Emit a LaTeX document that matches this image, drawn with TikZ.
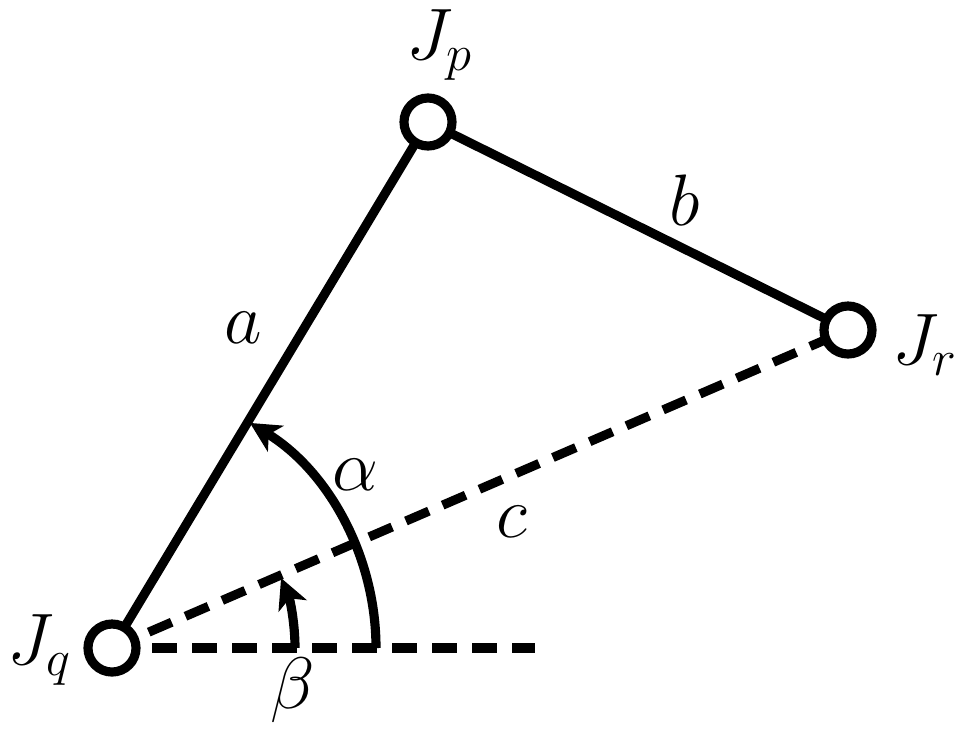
\documentclass[tikz,border=0pt]{standalone}
\usetikzlibrary{arrows.meta}
\begin{document}
\begin{tikzpicture}[x=0.01cm,y=-0.01cm,
  joint/.style={circle,draw,fill=white,line width=2.6pt,minimum size=0.48cm,inner sep=0pt},
  link/.style={line width=2.6pt},
  dashline/.style={line width=2.6pt,dash pattern=on 0.25cm off 0.15cm},
  lbl/.style={font=\fontsize{21}{25}\selectfont},
  arr/.style={line width=2.6pt,-{Stealth[length=0.3cm,width=0.3cm,inset=0.08cm]}}]
\useasboundingbox (0,0) rectangle (971,745);
\coordinate (q) at (112,648);
\coordinate (p) at (428,122);
\coordinate (r) at (848,330);
\coordinate (hend) at (535,648);
\draw[link] (q) -- (p) -- (r);
\draw[dashline] (q) -- (r);
\draw[dashline] (q) -- (hend);
\draw[arr] (376,648) arc[start angle=0,end angle=-58.5,radius=264];
\draw[arr] (295,648) arc[start angle=0,end angle=-22.5,radius=183];
\node[joint] (Jq) at (q) {};
\node[joint] (Jp) at (p) {};
\node[joint] (Jr) at (r) {};
\node[lbl] (lp) at (440,45) {$J_p$};
\node[lbl] (lr) at (925,345) {$J_r$};
\node[lbl] (lq) at (40,650) {$J_q$};
\node[lbl] (la) at (243,328) {$a$};
\node[lbl] (lb) at (685,200) {$b$};
\node[lbl] (lc) at (512,522) {$c$};
\node[lbl] (lal) at (355,475) {$\alpha$};
\node[lbl] (lbe) at (293,690) {$\beta$};
\end{tikzpicture}
\end{document}
